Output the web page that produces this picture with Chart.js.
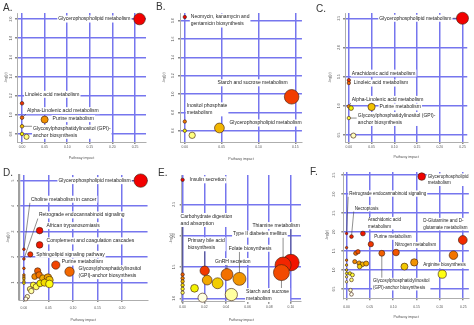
<!DOCTYPE html>
<html>
<head>
<meta charset="utf-8">
<script src="https://cdn.jsdelivr.net/npm/chart.js@4.4.0/dist/chart.umd.min.js"></script>
<style>
  html, body { margin: 0; padding: 0; background: #fff; }
  #fig { position: relative; width: 474px; height: 325px; overflow: hidden; background: #fff;
         font-family: "Liberation Sans", Arial, sans-serif; }
  #fig canvas { position: absolute; }
  .tag { position: absolute; font-size: 10px; line-height: 10px; color: #333; }
</style>
</head>
<body>
<div id="fig">
  <canvas id="cA"></canvas><canvas id="cB"></canvas><canvas id="cC"></canvas>
  <canvas id="cD"></canvas><canvas id="cE"></canvas><canvas id="cF"></canvas>
  <div class="tag" style="left:3px;top:3px">A.</div>
  <div class="tag" style="left:156px;top:2px">B.</div>
  <div class="tag" style="left:316px;top:4px">C.</div>
  <div class="tag" style="left:3px;top:168px">D.</div>
  <div class="tag" style="left:158px;top:168px">E.</div>
  <div class="tag" style="left:310px;top:167px">F.</div>
</div>
<script>
// ---------- Panel A ----------
const aPathway = ['Glycerophospholipid metabolism', 'Linoleic acid metabolism', 'Alpha-Linolenic acid metabolism',
  'Purine metabolism', 'Glycosylphosphatidylinositol (GPI)-\nanchor biosynthesis', '', ''];
const aImpact = [0.26, 0.00, 0.00, 0.05, 0.00, 0.00, 0.01];
const aLogP   = [2.00, 1.12, 0.97, 0.95, 0.88, 0.80, 0.77];
const aXTicks = [0, 0.05, 0.10, 0.15, 0.20, 0.25];
const aYTicks = [0.8, 1.0, 1.2, 1.4, 1.6, 1.8, 2.0];

// ---------- Panel B ----------
const bPathway = ['Neomycin, kanamycin and\ngentamicin biosynthesis', 'Starch and sucrose metabolism',
  'Inositol phosphate\nmetabolism', 'Glycerophospholipid metabolism', '', ''];
const bImpact = [0.00, 0.145, 0.00, 0.047, 0.00, 0.01];
const bLogP   = [1.84, 0.97, 0.70, 0.63, 0.60, 0.55];
const bXTicks = [0, 0.05, 0.10, 0.15];
const bYTicks = [0.6, 0.8, 1.0, 1.2, 1.4, 1.6, 1.8];

// ---------- Panel C ----------
const cPathway = ['Glycerophospholipid metabolism', 'Arachidonic acid metabolism', 'Linoleic acid metabolism',
  'Alpha-Linolenic acid metabolism', '', 'Purine metabolism',
  'Glycosylphosphatidylinositol (GPI)-\nanchor biosynthesis', ''];
const cImpact = [0.25, 0.00, 0.00, 0.00, 0.005, 0.05, 0.00, 0.01];
const cLogP   = [2.50, 1.44, 1.39, 0.99, 0.96, 0.98, 0.79, 0.49];
const cXTicks = [0, 0.05, 0.10, 0.15, 0.20, 0.25];
const cYTicks = [0.5, 1.0, 1.5, 2.0, 2.5];

// ---------- Panel D ----------
const dPathway = ['Glycerophospholipid metabolism', 'Choline metabolism in cancer',
  'Retrograde endocannabinoid signaling', 'African trypanosomiasis', 'Complement and coagulation cascades',
  'Sphingolipid signaling pathway', 'Purine metabolism', 'Glycosylphosphatidylinositol\n(GPI)-anchor biosynthesis',
  '', '', '', '', '', '', '', '', '', '', '', '', '', '', '', '', '', '', '', '', ''];
const dImpact = [0.238, 0.00, 0.00, 0.032, 0.032, 0.013, 0.065, 0.093,
  0.00, 0.028, 0.022, 0.031, 0.039, 0.049, 0.052, 0.00, 0.00, 0.00,
  0.019, 0.025, 0.033, 0.042, 0.052, 0.012, 0.015, 0.007, 0.004, 0.00, 0.00];
const dLogP   = [5.00, 2.31, 1.93, 3.04, 2.48, 2.11, 1.69, 1.43,
  1.56, 1.46, 1.24, 1.30, 1.17, 1.20, 1.10, 1.30, 1.22, 1.15,
  0.91, 0.84, 0.97, 1.00, 0.95, 0.75, 0.67, 0.45, 0.36, 1.05, 0.98];
const dXTicks = [0, 0.05, 0.10, 0.15, 0.20];
const dYTicks = [1, 2, 3, 4, 5];

// ---------- Panel E ----------
const ePathway = ['Insulin secretion', 'Carbohydrate digestion\nand absorption', 'Primary bile acid\nbiosynthesis',
  'GnRH secretion', 'Folate biosynthesis', 'Thiamine metabolism', 'Type II diabetes mellitus',
  'Starch and sucrose\nmetabolism', '', '', '', '', '', '', '', '', '', ''];
const eImpact = [0.00, 0.00, 0.0204, 0.041, 0.0525, 0.100, 0.0928, 0.0913,
  0.0227, 0.0323, 0.011, 0.0184, 0.045, 0.00, 0.00, 0.00, 0.00, 0.00];
const eLogP   = [2.89, 1.38, 1.44, 1.38, 1.31, 1.57, 1.53, 1.41,
  1.29, 1.24, 1.16, 1.01, 1.06, 1.32, 1.27, 1.21, 1.15, 1.09];
const eXTicks = [0, 0.02, 0.04, 0.06, 0.08, 0.10];
const eYTicks = [1.0, 1.5, 2.0, 2.5];

// ---------- Panel F ----------
const fPathway = ['Glycerophospholipid\nmetabolism', 'Retrograde endocannabinoid signaling', 'Necroptosis',
  'Arachidonic acid\nmetabolism', 'D-Glutamine and D-\nglutamate metabolism', 'Purine metabolism',
  'Nitrogen metabolism', 'Glycosylphosphatidylinositol\n(GPI)-anchor biosynthesis', 'Arginine biosynthesis',
  '', '', '', '', '', '', '', '', '', '', '', '', '', '', '', '', '', '', '', '', '', ''];
const fImpact = [0.161, 0.00, 0.0105, 0.035, 0.249, 0.052, 0.106, 0.0755, 0.205,
  0.229, 0.145, 0.124, 0.00, 0.0196, 0.0245, 0.0175, 0.027, 0.034, 0.042, 0.028,
  0.007, 0.0126, 0.0105, 0.0084, 0.0105, 0.00, 0.00, 0.00, 0.00, 0.00, 0.00];
const fLogP   = [3.46, 1.96, 1.88, 1.96, 1.79, 1.68, 1.46, 1.44, 0.89,
  1.39, 1.20, 1.09, 1.59, 1.44, 1.48, 1.22, 1.18, 1.15, 1.17, 1.09,
  0.91, 0.87, 0.74, 0.47, 0.36, 1.26, 1.13, 1.00, 0.91, 0.82, 0.69];
const fXTicks = [0, 0.05, 0.10, 0.15, 0.20, 0.25];
const fYTicks = [0.5, 1.0, 1.5, 2.0, 2.5, 3.0, 3.5];

// ---------- drawing ----------
const FONT = '"Liberation Sans", Arial, sans-serif';
const GRID = '#7676ee';
const AXIS_TEXT = '#555';
Chart.defaults.font.family = FONT;

// heat palette (red -> yellow -> pale), assigned by rank of -log(p)
function hsv(h, s, v) {
  const i = Math.floor(h * 6), f = h * 6 - i;
  const p = v * (1 - s), q = v * (1 - f * s), t = v * (1 - (1 - f) * s);
  const rgb = [[v, t, p], [q, v, p], [p, v, t], [p, q, v], [t, p, v], [v, p, q]][i % 6];
  return 'rgb(' + rgb.map(c => Math.round(c * 255)).join(',') + ')';
}
function heatColours(n) {
  const j = Math.floor(n / 4), i = n - j, out = [];
  for (let k = 0; k < i; k++) out.push(hsv(i > 1 ? k / (i - 1) / 6 : 0, 1, 0.95));
  const a = 1 - 1 / (2 * j), b = 1 / (2 * j);
  for (let k = 0; k < j; k++) out.push(hsv(1 / 6, j > 1 ? a + (b - a) * k / (j - 1) : a, 1));
  return out;
}
function rankColours(vals) {
  const order = vals.map((v, i) => i).sort((p, q) => vals[q] - vals[p]);
  const pal = heatColours(vals.length), out = [];
  order.forEach((idx, k) => { out[idx] = pal[k]; });
  return out;
}

// pathway name labels with white boxes and leader lines
const pathwayLabels = {
  id: 'pathwayLabels',
  beforeDatasetsDraw(chart, args, opts) {
    const ctx = chart.ctx, meta = chart.getDatasetMeta(0);
    ctx.save();
    ctx.font = opts.size + 'px ' + FONT;
    ctx.textBaseline = 'middle';
    const lh = opts.size * 1.4;
    opts.place.forEach(pl => {
      const el = meta.data[pl.i];
      const lines = opts.names[pl.i].split('\n');
      const w = Math.max(...lines.map(t => ctx.measureText(t).width));
      const x0 = pl.align === 'right' ? el.x + pl.dx - w : el.x + pl.dx;
      const y0 = el.y + pl.dy;
      const box = { l: x0 - 1, r: x0 + w + 1, t: y0 - lh / 2, b: y0 + lh * (lines.length - 0.5) };
      if (pl.lead) {
        const tx = Math.min(Math.max(el.x, box.l), box.r);
        const ty = Math.min(Math.max(el.y, box.t), box.b);
        ctx.strokeStyle = '#444';
        ctx.lineWidth = 0.6;
        ctx.beginPath(); ctx.moveTo(el.x, el.y); ctx.lineTo(tx, ty); ctx.stroke();
      }
      ctx.fillStyle = '#fff';
      ctx.fillRect(box.l, box.t, box.r - box.l, box.b - box.t);
      ctx.fillStyle = '#222';
      ctx.textAlign = 'left';
      lines.forEach((t, k) => ctx.fillText(t, x0, y0 + k * lh));
    });
    ctx.restore();
  }
};

// vertical tick labels on the -log(p) axis
const yTickText = {
  id: 'yTickText',
  afterDraw(chart, args, opts) {
    const s = chart.scales.y, ctx = chart.ctx;
    ctx.save();
    ctx.font = '3.4px ' + FONT;
    ctx.fillStyle = AXIS_TEXT;
    ctx.textAlign = 'center';
    ctx.textBaseline = 'middle';
    s.ticks.forEach(t => {
      ctx.save();
      ctx.translate(opts.x, s.getPixelForValue(t.value));
      ctx.rotate(-Math.PI / 2);
      ctx.fillText(t.value.toFixed(opts.digits), 0, 0);
      ctx.restore();
    });
    ctx.restore();
  }
};

function panel(P) {
  const cv = document.getElementById(P.id);
  cv.width = P.box.w; cv.height = P.box.h;
  cv.style.left = P.box.left + 'px'; cv.style.top = P.box.top + 'px';
  cv.style.width = P.box.w + 'px'; cv.style.height = P.box.h + 'px';
  const xmax = Math.max(...P.impact);
  const pts = P.impact.map((x, i) => ({ x, y: P.logp[i], r: P.r[0] + (P.r[1] - P.r[0]) * Math.sqrt(x / xmax) }));
  const titleLH = 3.6 * 1.2, tickLH = 3.4 * 1.2;
  new Chart(cv, {
    type: 'bubble',
    data: { datasets: [{ data: pts, backgroundColor: rankColours(P.logp),
      borderColor: 'rgba(70,35,15,0.85)', borderWidth: 0.75, clip: false }] },
    options: {
      responsive: false, animation: false, devicePixelRatio: 1, events: [],
      layout: { padding: { left: 0, top: P.area.T, right: P.box.w - P.area.R, bottom: 0 } },
      plugins: { legend: { display: false }, tooltip: { enabled: false },
        pathwayLabels: { names: P.names, place: P.place, size: P.labelSize },
        yTickText: { x: P.yTickX, digits: P.yDigits } },
      scales: {
        x: {
          type: 'linear', min: P.x[0], max: P.x[1],
          afterBuildTicks: s => { s.ticks = P.xTicks.map(v => ({ value: v })); },
          afterFit: s => { s.height = P.box.h - P.area.B; },
          ticks: { callback: v => v.toFixed(2), font: { size: 3.4 }, color: AXIS_TEXT, maxRotation: 0,
            autoSkip: false, padding: P.xTickY - P.area.B - 2 - tickLH / 2 },
          grid: { color: GRID, lineWidth: 1.5, tickLength: 2, tickColor: '#888' },
          border: { color: '#999', width: 0.8 },
          title: { display: true, text: 'Pathway impact', font: { size: 3.6 }, color: AXIS_TEXT,
            padding: { top: 0, bottom: P.box.h - P.xTitleY - titleLH / 2 } }
        },
        y: {
          type: 'linear', min: P.y[0], max: P.y[1],
          afterBuildTicks: s => { s.ticks = P.yTicks.map(v => ({ value: v })); },
          afterFit: s => { s.width = P.area.L; },
          ticks: { display: false },
          grid: { color: GRID, lineWidth: 1.5, tickLength: 2, tickColor: '#888' },
          border: { color: P.axisColour || '#999', width: P.axisWidth || 0.8 },
          title: { display: true, text: '-log(p)', font: { size: 3.6 }, color: AXIS_TEXT,
            padding: { top: P.yTitleX - titleLH / 2, bottom: 0 } }
        }
      }
    },
    plugins: [pathwayLabels, yTickText]
  });
}

panel({ id: 'cA', names: aPathway, impact: aImpact, logp: aLogP, xTicks: aXTicks, yTicks: aYTicks, yDigits: 1,
  box: { left: 0, top: 0, w: 155, h: 165 }, area: { L: 17, T: 13, R: 146, B: 142 },
  x: [-0.0111, 0.2743], y: [0.716, 2.063], r: [1.8, 5.8],
  xTickY: 146.7, xTitleY: 158, yTitleX: 6, yTickX: 11, labelSize: 5,
  place: [ { i: 0, dx: -9, dy: 0, align: 'right', lead: true }, { i: 1, dx: 3, dy: -9 },
           { i: 2, dx: 5, dy: -7, lead: true }, { i: 3, dx: 8, dy: -1 }, { i: 4, dx: 11, dy: 2, lead: true } ] });

panel({ id: 'cB', names: bPathway, impact: bImpact, logp: bLogP, xTicks: bXTicks, yTicks: bYTicks, yDigits: 1,
  box: { left: 155, top: 0, w: 155, h: 165 }, area: { L: 25, T: 13, R: 153, B: 142 },
  x: [-0.0065, 0.159], y: [0.477, 1.884], r: [1.7, 7.3],
  xTickY: 147, xTitleY: 159, yTitleX: 9, yTickX: 18.3, labelSize: 5,
  place: [ { i: 0, dx: 6, dy: 0 }, { i: 1, dx: -4, dy: -14, align: 'right' },
           { i: 2, dx: 2, dy: -15.7 }, { i: 3, dx: 10, dy: -5 } ] });

panel({ id: 'cC', names: cPathway, impact: cImpact, logp: cLogP, xTicks: cXTicks, yTicks: cYTicks, yDigits: 1,
  box: { left: 310, top: 0, w: 164, h: 165 }, area: { L: 35, T: 13, R: 163, B: 142 },
  x: [-0.0084, 0.2605], y: [0.38, 2.59], r: [1.7, 6],
  xTickY: 147.3, xTitleY: 156.7, yTitleX: 20, yTickX: 29, labelSize: 5,
  place: [ { i: 0, dx: -11, dy: 0, align: 'right', lead: true }, { i: 1, dx: 3, dy: -7 },
           { i: 2, dx: 5, dy: 0 }, { i: 3, dx: 3, dy: -7, lead: true }, { i: 5, dx: 8, dy: 0 },
           { i: 6, dx: 9, dy: -2.6, lead: true } ] });

panel({ id: 'cD', names: dPathway, impact: dImpact, logp: dLogP, xTicks: dXTicks, yTicks: dYTicks, yDigits: 0,
  box: { left: 0, top: 165, w: 155, h: 160 }, area: { L: 19, T: 10, R: 150, B: 135 },
  x: [-0.01, 0.252], y: [0.32, 5.22], r: [1.3, 6.7], axisColour: '#a0a0a0', axisWidth: 2.2,
  xTickY: 142.7, xTitleY: 155, yTitleX: 8.3, yTickX: 13.3, labelSize: 5,
  place: [ { i: 0, dx: -10, dy: 0, align: 'right', lead: true }, { i: 1, dx: 7, dy: -50, lead: true },
           { i: 2, dx: 15, dy: -44, lead: true }, { i: 3, dx: 7, dy: -5 }, { i: 4, dx: 7, dy: -4 },
           { i: 5, dx: 6, dy: 0 }, { i: 6, dx: 6, dy: -3 }, { i: 7, dx: 9, dy: -3 } ] });

panel({ id: 'cE', names: ePathway, impact: eImpact, logp: eLogP, xTicks: eXTicks, yTicks: eYTicks, yDigits: 1,
  box: { left: 155, top: 165, w: 155, h: 160 }, area: { L: 26.7, T: 10, R: 156.7, B: 136.7 },
  x: [-0.00085, 0.1093], y: [0.946, 2.967], r: [1.7, 8.3],
  xTickY: 141.7, xTitleY: 155, yTitleX: 15.7, yTickX: 19.3, labelSize: 5,
  place: [ { i: 0, dx: 7, dy: 0 }, { i: 1, dx: -2, dy: -58, lead: true }, { i: 2, dx: -17, dy: -30, lead: true },
           { i: 3, dx: -12, dy: -13, lead: true }, { i: 4, dx: -10.7, dy: -30.6, lead: true },
           { i: 5, dx: -38.4, dy: -37, lead: true }, { i: 6, dx: -50, dy: -31, lead: true },
           { i: 7, dx: -35.4, dy: 19, lead: true } ] });

panel({ id: 'cF', names: fPathway, impact: fImpact, logp: fLogP, xTicks: fXTicks, yTicks: fYTicks, yDigits: 1,
  box: { left: 310, top: 165, w: 164, h: 160 }, area: { L: 33.3, T: 7, R: 161.7, B: 133.3 },
  x: [-0.007, 0.262], y: [0.255, 3.58], r: [1.2, 4.4],
  xTickY: 141.7, xTitleY: 151.7, yTitleX: 16.7, yTickX: 24, labelSize: 4.5,
  place: [ { i: 0, dx: 6, dy: 0 }, { i: 1, dx: 2.6, dy: -40, lead: true }, { i: 2, dx: 3.3, dy: -28.3, lead: true },
           { i: 3, dx: 5, dy: -13.5 }, { i: 4, dx: 4.6, dy: -19, align: 'right' }, { i: 5, dx: 3.5, dy: -7.5 },
           { i: 6, dx: -1, dy: -7.5 }, { i: 7, dx: -8.7, dy: 27.7, lead: true }, { i: 8, dx: -19, dy: -9 } ] });
</script>
</body>
</html>
